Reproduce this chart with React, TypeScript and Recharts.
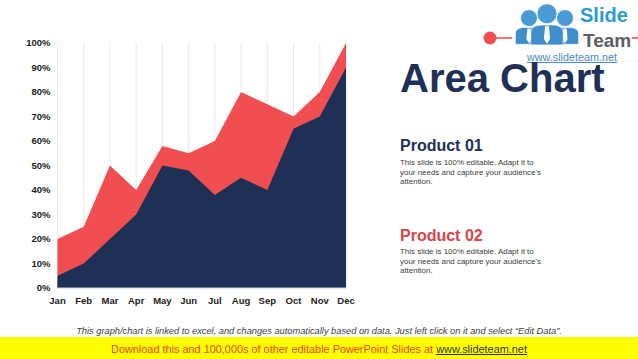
import React from "react";
import { AreaChart, Area, XAxis, YAxis, CartesianGrid } from "recharts";

const months = ["Jan","Feb","Mar","Apr","May","Jun","Jul","Aug","Sep","Oct","Nov","Dec"];
const product02 = [20,25,50,40,58,55,60,80,75,70,80,100];
const product01 = [5,10,20,30,50,48,38,45,40,65,70,90];
const yTicks = [0,10,20,30,40,50,60,70,80,90,100];
const data = months.map((m,i)=>({m, product01: product01[i], product02: product02[i]}));

const FONT = "'Liberation Sans', Arial, sans-serif";
const NAVY = "#1f3057";
const RED = "#f04e51";

const abs = (left:number, top:number, extra:React.CSSProperties={}):React.CSSProperties => ({
  position:"absolute", left, top, fontFamily:FONT, whiteSpace:"nowrap", ...extra,
});

const Person = ({x,y,s}:{x:number;y:number;s:number}) => (
  <g transform={`translate(${x} ${y}) scale(${s})`}>
    <circle cx="0" cy="-9" r="8" fill="#4a9ad6" stroke="#fff" strokeWidth="0.6"/>
    <path d="M-13 16 V6 Q-13 1 -6 0 L6 0 Q13 1 13 6 V16 Z" fill="#3f8fcf" stroke="#fff" strokeWidth="0.6"/>
    <path d="M-1.5 1 H1.5 L2.5 11 L0 15 L-2.5 11 Z" fill="#fff"/>
  </g>
);

const Body = ({top}:{top:number}) => (
  <div style={abs(400,top,{fontSize:7.95,lineHeight:"9.7px",color:"#404040"})}>
    This slide is 100% editable. Adapt it to<br/>your needs and capture your audience's<br/>attention.
  </div>
);

export default function App(){
  return (
    <div style={{position:"absolute",left:0,top:0,width:638,height:359,background:"#fff",overflow:"hidden"}}>
      <div style={abs(0,0)}>
        <AreaChart width={638} height={359} data={data} margin={{top:43,right:292,bottom:51,left:7}}>
          <CartesianGrid horizontal={false} vertical stroke="#e9e9e9" strokeWidth={1}/>
          <XAxis dataKey="m" scale="point" padding={{left:0,right:0}} interval={0}
            axisLine={{stroke:"#c9ced8"}} tickLine={false} height={20} tickMargin={3}
            tick={{fontSize:9.5,fontWeight:700,fill:"#222",fontFamily:FONT}}/>
          <YAxis domain={[0,100]} ticks={yTicks} width={50.5} axisLine={false} tickLine={false} tickMargin={1}
            tickFormatter={(v:number)=>`${v}%`}
            tick={{fontSize:9.5,fontWeight:700,fill:"#222",fontFamily:FONT}}/>
          <Area type="linear" dataKey="product02" stroke="none" fill={RED} fillOpacity={1} isAnimationActive={false} dot={false} activeDot={false}/>
          <Area type="linear" dataKey="product01" stroke="none" fill={NAVY} fillOpacity={1} isAnimationActive={false} dot={false} activeDot={false}/>
        </AreaChart>
      </div>

      <svg width={638} height={70} style={{position:"absolute",left:0,top:0}}>
        <line x1="490" y1="38" x2="638" y2="38" stroke="#f8d5d5" strokeWidth="1"/>
        <line x1="490" y1="38" x2="512" y2="38" stroke={RED} strokeWidth="1.5"/>
        <line x1="632" y1="38" x2="638" y2="38" stroke={RED} strokeWidth="1.5"/>
        <line x1="526" y1="61" x2="638" y2="61" stroke="#eeeeee" strokeWidth="1"/>
        <circle cx="490" cy="38" r="6.5" fill={RED}/>
        <Person x={529} y={27.5} s={1.05}/>
        <Person x={565} y={27.5} s={1.05}/>
        <Person x={547} y={25} s={1.25}/>
      </svg>
      <div style={abs(580,4,{fontSize:20,lineHeight:"23px",fontWeight:700,color:"#2c9ad0"})}>Slide</div>
      <div style={abs(583,30,{fontSize:19,lineHeight:"21px",fontWeight:700,color:"#5a5f66"})}>Team</div>
      <div style={abs(527,52,{fontSize:10.8,lineHeight:"10px",color:"#4a8cc8",textDecoration:"underline"})}>www.slideteam.net</div>

      <div style={abs(400,65,{fontSize:40,lineHeight:"26px",fontWeight:700,color:NAVY})}>Area Chart</div>

      <div style={abs(400,136,{fontSize:16,lineHeight:"19px",fontWeight:700,color:NAVY})}>Product 01</div>
      <Body top={158}/>
      <div style={abs(400,226,{fontSize:16,lineHeight:"19px",fontWeight:700,color:"#d9444a"})}>Product 02</div>
      <Body top={247}/>

      <div style={{...abs(0,326,{fontSize:9.27,fontStyle:"italic",color:"#404040"}),width:638,textAlign:"center"}}>
        This graph/chart is linked to excel, and changes automatically based on data. Just left click on it and select “Edit Data”.
      </div>
      <div style={{...abs(0,337,{fontSize:10.9,lineHeight:"24px",color:"#e8440a",background:"#ffff00",height:22}),width:638,textAlign:"center"}}>
        Download this and 100,000s of other editable PowerPoint Slides at <span style={{color:"#333",textDecoration:"underline"}}>www.slideteam.net</span>
      </div>
    </div>
  );
}
